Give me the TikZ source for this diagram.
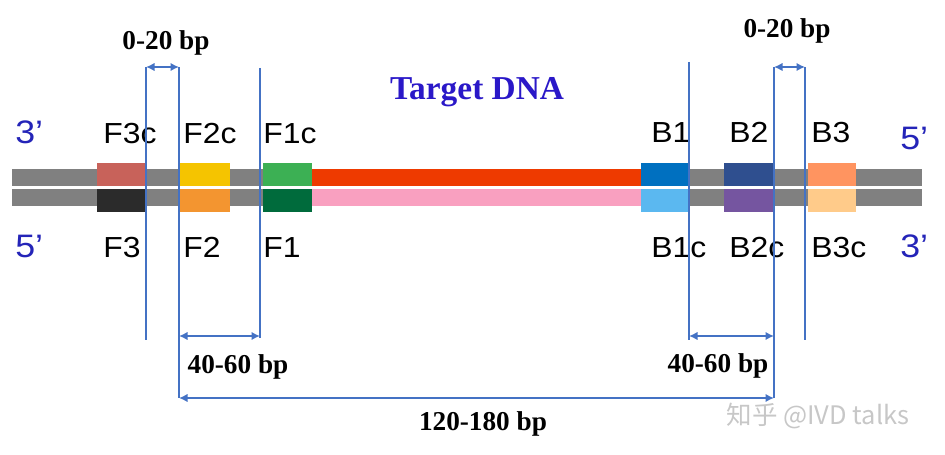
\documentclass[tikz,border=0pt]{standalone}
\usepackage{fontspec}
\setmainfont{Liberation Serif}
\newfontfamily\arialfont[FakeStretch=1.1]{Liberation Sans}
\newfontfamily\cjkfont{Noto Sans CJK SC}
\usetikzlibrary{arrows.meta}

\definecolor{lineblue}{HTML}{4472C4}
\definecolor{endblue}{HTML}{2424B8}
\definecolor{titleblue}{HTML}{2A18C8}
\definecolor{strandgray}{HTML}{808080}
\definecolor{targetred}{HTML}{EE3A00}
\definecolor{targetpink}{HTML}{F9A0C0}
\definecolor{fthreec}{HTML}{C8625A}
\definecolor{fthree}{HTML}{2B2B2B}
\definecolor{ftwoc}{HTML}{F5C400}
\definecolor{ftwo}{HTML}{F39530}
\definecolor{fonec}{HTML}{3CB054}
\definecolor{fone}{HTML}{006B3C}
\definecolor{bone}{HTML}{0070C0}
\definecolor{bonec}{HTML}{5BB8F0}
\definecolor{btwo}{HTML}{2F4F8F}
\definecolor{btwoc}{HTML}{7555A0}
\definecolor{bthree}{HTML}{FF9460}
\definecolor{bthreec}{HTML}{FFCB8A}

\tikzset{
    primerbox/.style={
        draw=none,
        fill=#1 % 引物区域颜色
    },
    seglabel/.style={
        anchor=base west,
        inner sep=0,
        font=\arialfont\fontsize{16.5}{18}\selectfont
    },
    endlabel/.style={
        anchor=base west,
        inner sep=0,
        text=endblue,
        font=\arialfont\fontsize{18.5}{20}\selectfont
    },
    bplabel/.style={
        anchor=base,
        inner sep=0,
        font=\bfseries\fontsize{15.5}{17}\selectfont
    },
    guide/.style={
        draw=lineblue,
        line width=1.4pt
    },
    span/.style={
        draw=lineblue,
        line width=1.4pt,
        {Latex[length=1.7mm,width=1.7mm]}-{Latex[length=1.7mm,width=1.7mm]}
    }
}

\begin{document}
\begin{tikzpicture}[x=0.02cm,y=-0.02cm]
    \useasboundingbox (0,0) rectangle (945,455);

    % 双链
    \fill[strandgray] (12,169) rectangle (922,186);
    \fill[strandgray] (12,189) rectangle (922,206);
    \fill[primerbox=targetred] (312,169) rectangle (642,186);
    \fill[primerbox=targetpink] (312,189) rectangle (642,206);

    % 引物结合区
    \fill[primerbox=fthreec] (97,163) rectangle (145,186);
    \fill[primerbox=fthree] (97,189) rectangle (145,212);
    \fill[primerbox=ftwoc] (180,163) rectangle (230,186);
    \fill[primerbox=ftwo] (180,189) rectangle (230,212);
    \fill[primerbox=fonec] (263,163) rectangle (312,186);
    \fill[primerbox=fone] (263,189) rectangle (312,212);
    \fill[primerbox=bone] (641,163) rectangle (689,186);
    \fill[primerbox=bonec] (641,189) rectangle (689,212);
    \fill[primerbox=btwo] (724,163) rectangle (773,186);
    \fill[primerbox=btwoc] (724,189) rectangle (773,212);
    \fill[primerbox=bthree] (808,163) rectangle (856,186);
    \fill[primerbox=bthreec] (808,189) rectangle (856,212);

    % 标签
    \node[endlabel] (top-left) at (15,144) {3’};
    \node[endlabel] (bot-left) at (15,258) {5’};
    \node[endlabel] (top-right) at (900,150) {5’};
    \node[endlabel] (bot-right) at (900,258) {3’};

    \node[seglabel] (f3c) at (103,144) {F3c};
    \node[seglabel] (f2c) at (183,144) {F2c};
    \node[seglabel] (f1c) at (263,144) {F1c};
    \node[seglabel] (b1) at (651,143) {B1};
    \node[seglabel] (b2) at (729,143) {B2};
    \node[seglabel] (b3) at (811,143) {B3};
    \node[seglabel] (f3) at (103,258) {F3};
    \node[seglabel] (f2) at (183,258) {F2};
    \node[seglabel] (f1) at (263,258) {F1};
    \node[seglabel] (b1c) at (651,258) {B1c};
    \node[seglabel] (b2c) at (729,258) {B2c};
    \node[seglabel] (b3c) at (811,258) {B3c};

    \node[bplabel, text=titleblue, font=\bfseries\fontsize{19}{21}\selectfont] (title) at (477,100) {Target DNA};

    % 分界线
    \coordinate (a-top) at (146,67);  \coordinate (a-bot) at (146,340);
    \coordinate (b-top) at (179,67);  \coordinate (b-bot) at (179,398);
    \coordinate (c-top) at (260,68);  \coordinate (c-bot) at (260,338);
    \coordinate (d-top) at (689,62);  \coordinate (d-bot) at (689,340);
    \coordinate (e-top) at (774,67);  \coordinate (e-bot) at (774,398);
    \coordinate (f-top) at (805,67);  \coordinate (f-bot) at (805,340);
    \foreach \l in {a,b,c,d,e,f}
        \draw[guide] (\l-top) -- (\l-bot);

    % 距离
    \draw[span] (a-top) -- (b-top);
    \draw[span] (e-top) -- (f-top);
    \draw[span] (b-top |- 0,336) -- (c-top |- 0,336);
    \draw[span] (d-top |- 0,336) -- (e-top |- 0,336);
    \draw[span] (b-bot) -- (e-bot);

    \node[bplabel] (gap-left) at (166,50) {0-20 bp};
    \node[bplabel] (gap-right) at (787,38) {0-20 bp};
    \node[bplabel] (loop-left) at (238,373) {40-60 bp};
    \node[bplabel] (loop-right) at (718,372) {40-60 bp};
    \node[bplabel] (total) at (483,430) {120-180 bp};

    \node[inner sep=0, text=black!22, font=\cjkfont\fontsize{14.5}{16}\selectfont] (mark) at (818,416) {知乎 @IVD talks};
\end{tikzpicture}
\end{document}
